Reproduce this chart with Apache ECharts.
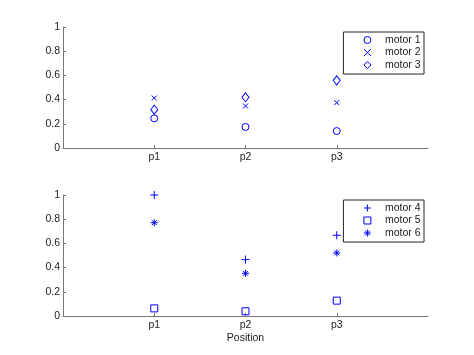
<!DOCTYPE html>
<html><head><meta charset="utf-8">
<script src="https://cdn.jsdelivr.net/npm/echarts@6/dist/echarts.min.js"></script>
<style>html,body{margin:0;padding:0;background:#fff}#c{width:474px;height:355px}</style>
</head><body><div id="c"></div>
<script>
const positions = ['p1', 'p2', 'p3'];
const yTicks = ['0', '0.2', '0.4', '0.6', '0.8', '1'];
const motor1 = [0.245, 0.174, 0.14];
const motor2 = [0.413, 0.347, 0.375];
const motor3 = [0.317, 0.419, 0.559];
const motor4 = [1.0, 0.466, 0.667];
const motor5 = [0.063, 0.039, 0.127];
const motor6 = [0.771, 0.353, 0.521];

const BLUE = '#0000ff';
const sym = {
  circle: 'path://M0,5A5,5,0,1,1,10,5A5,5,0,1,1,0,5Z',
  x: 'path://M0,0L10,10M10,0L0,10',
  diamond: 'path://M5,0L10,5L5,10L0,5Z',
  plus: 'path://M5,0L5,10M0,5L10,5',
  square: 'path://M0,0L10,0L10,10L0,10Z',
  star: 'path://M5,0L5,10M0,5L10,5M1.5,1.5L8.5,8.5M8.5,1.5L1.5,8.5'
};
function pts(vals){ return vals.map((v,i)=>[i+1, v]); }
function ser(name, vals, symbol, size, grid){
  return {
    name, type:'scatter', xAxisIndex:grid, yAxisIndex:grid,
    data: pts(vals), symbol, symbolSize: size, silent:true,
    itemStyle: {color:'rgba(255,255,255,0)', borderColor:BLUE, borderWidth:1, opacity:1},
    emphasis:{disabled:true}
  };
}
const font = 'Liberation Sans, Arial, sans-serif';
const AX = '#777';
function xAxis(grid, withName){
  return {
    type:'value', gridIndex:grid, min:0, max:4, interval:1,
    axisLine:{lineStyle:{color:AX, width:1}},
    axisTick:{inside:true, length:3, lineStyle:{color:AX}, customValues:[1,2,3]},
    axisLabel:{color:'#222', fontSize:10.5, fontFamily:font, margin:4,
      customValues:[1,2,3],
      formatter:(v)=>positions[v-1] || ''},
    splitLine:{show:false},
    name: withName ? 'Position' : '', nameLocation:'middle', nameGap:16.5,
    nameTextStyle:{color:'#222', fontSize:10.5, fontFamily:font}
  };
}
function yAxis(grid){
  return {
    type:'value', gridIndex:grid, min:0, max:1, interval:0.2,
    axisLine:{show:true, lineStyle:{color:AX, width:1}},
    axisTick:{show:true, inside:true, length:3, lineStyle:{color:AX}},
    axisLabel:{color:'#222', fontSize:10.5, fontFamily:font, margin:3,
      formatter:(v)=>yTicks[Math.round(v/0.2)]},
    splitLine:{show:false}
  };
}
function legend(names, top){
  return {
    data: names, right: 50, top: top, orient:'vertical',
    backgroundColor:'#fff', borderColor:'#222', borderWidth:1,
    padding:[2,3.5,3,20], itemGap:0.5, itemWidth:7, itemHeight:7,
    itemStyle:{color:'rgba(255,255,255,0)', borderColor:BLUE, borderWidth:1},
    textStyle:{color:'#222', fontSize:10.5, fontFamily:font, lineHeight:12, padding:[0,0,0,9]},
    selectedMode:false
  };
}
const chart = echarts.init(document.getElementById('c'), null, {renderer:'canvas'});
chart.setOption({
  animation:false,
  backgroundColor:'#fff',
  tooltip:{show:false},
  grid:[
    {left:63, right:46, top:27, height:121},
    {left:63, right:46, top:195, height:121}
  ],
  xAxis:[xAxis(0,false), xAxis(1,true)],
  yAxis:[yAxis(0), yAxis(1)],
  legend:[legend(['motor 1','motor 2','motor 3'], 32), legend(['motor 4','motor 5','motor 6'], 200)],
  series:[
    ser('motor 1', motor1, sym.circle, 7, 0),
    ser('motor 2', motor2, sym.x, 5, 0),
    ser('motor 3', motor3, sym.diamond, [7,9], 0),
    ser('motor 4', motor4, sym.plus, 8, 1),
    ser('motor 5', motor5, sym.square, 7, 1),
    ser('motor 6', motor6, sym.star, 7, 1)
  ]
});
</script></body></html>
